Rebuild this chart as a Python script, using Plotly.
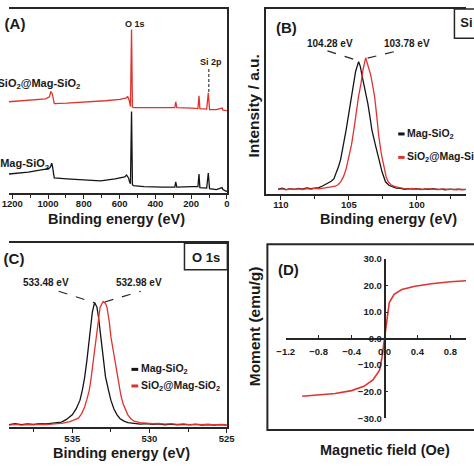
import plotly.graph_objects as go

W = H = 474
# ---------------- data ----------------
# (A) survey spectra: binding energy (eV) / intensity (a.u.)
survey_be_black = [1218, 1110, 1013, 992, 984, 980, 976, 965, 895, 787, 706, 625, 571, 561, 550, 544, 539,
                   533, 528, 523, 464, 356, 291, 286, 280, 194, 162, 156, 151, 113, 104, 97, 59, 27, 22, 0]
survey_int_black = [19, 21, 24, 25, 27, 30, 28, 15, 14, 12.5, 12, 14, 16, 18, 15, 11, 9,
                    83, 8, 7, 6, 5.5, 5.5, 11, 5.5, 6, 6, 19, 5, 4.5, 20, 4, 3, 5, 3, 1]
survey_be_red = [1218, 1110, 1013, 992, 984, 976, 965, 895, 787, 679, 598, 571, 561, 555, 547, 539,
                 533, 528, 518, 410, 291, 286, 280, 194, 162, 156, 151, 113, 104, 97, 59, 27, 22, 0]
survey_int_red = [93, 94.5, 96, 98, 103.5, 101, 91, 91.5, 92.5, 94, 95.5, 96.5, 97, 98.5, 95, 88,
                  167, 87.5, 87, 87, 87, 93, 87, 86.5, 86, 99, 86, 85.5, 102, 85, 85, 86.5, 84.5, 84]

# (B) Si 2p
si_be_black = [110.2, 109.9, 109.6, 109.3, 109.0, 108.7, 108.4, 108.1, 107.8, 107.5, 107.2, 106.9, 106.6,
               106.3, 106.1, 105.9, 105.75, 105.6, 105.4, 105.2, 105.0, 104.8, 104.65, 104.5, 104.28,
               104.15, 104.0, 103.8, 103.6, 103.45, 103.3, 103.05, 102.8, 102.55, 102.3, 102.05, 101.8,
               101.5, 101.2, 100.9, 100.6, 100.3, 100.0, 99.7, 99.4, 99.1, 98.8, 98.5, 98.2, 97.9, 97.6,
               97.3, 97.0, 96.7, 96.4]
si_int_black = [4.5, 5.5, 4.0, 5.0, 4.2, 5.3, 4.6, 5.8, 4.9, 5.5, 6.0, 8, 10,
                12.5, 15, 22, 28, 35, 49, 65, 82, 99, 112, 125, 135,
                130, 119, 106, 92, 79, 65, 50, 35, 22, 12, 8.5, 7,
                5.5, 5.2, 4.4, 5.1, 4.6, 5.0, 4.1, 4.8, 4.2, 5.0, 4.0, 4.6, 3.9, 4.5,
                4.0, 4.6, 4.0, 4.3]
si_be_red = [110.2, 109.9, 109.6, 109.3, 109.0, 108.7, 108.4, 108.1, 107.8, 107.5, 107.2, 106.9, 106.6,
             106.3, 106.0, 105.8, 105.6, 105.4, 105.2, 105.0, 104.8, 104.6, 104.45, 104.3, 104.1, 103.95,
             103.76, 103.6, 103.4, 103.25, 103.1, 102.95, 102.8, 102.6, 102.4, 102.25, 102.1, 101.9,
             101.6, 101.3, 101.0, 100.7, 100.4, 100.1, 99.8, 99.5, 99.2, 98.9, 98.6, 98.3, 98.0, 97.7,
             97.4, 97.1, 96.8, 96.5, 96.2]
si_int_red = [4.0, 4.8, 3.8, 5.0, 4.3, 4.9, 4.0, 5.1, 4.5, 5.3, 4.7, 5.6, 6.0,
              6.8, 7.5, 9, 12, 17, 25, 36, 50, 68, 85, 98, 113, 127,
              139, 131, 122, 111, 99, 80, 59, 40, 25, 17, 12, 9,
              7, 5.8, 5.2, 4.6, 5.3, 4.4, 4.9, 4.1, 5.0, 4.3, 4.8, 4.0, 4.7, 4.1,
              4.6, 3.9, 4.4, 4.0, 4.5]

# (C) O 1s
o_be_black = [539.1, 538.7, 538.3, 537.9, 537.5, 537.1, 536.7, 536.3, 536.0, 535.7, 535.4, 535.0, 534.75,
              534.5, 534.35, 534.2, 534.05, 533.9, 533.8, 533.7, 533.55, 533.4, 533.3, 533.2, 533.1,
              533.0, 532.85, 532.65, 532.5, 532.3, 532.1, 531.9, 531.65, 531.4, 531.0, 530.6, 530.2,
              529.8, 529.4, 529.0, 528.6, 528.2, 527.8, 527.4, 527.0, 526.6, 526.2, 525.8, 525.4, 525.0]
o_int_black = [3.0, 3.8, 2.9, 3.6, 3.2, 4.0, 3.6, 4.4, 4.5, 5.5, 8, 13, 19,
               28, 38, 51, 69, 88, 103, 118, 128, 123, 113, 98, 84,
               68, 52, 38, 28, 19, 13, 9, 6.5, 5, 4.2, 3.5, 3.9,
               3.1, 3.6, 2.8, 3.4, 2.7, 3.2, 2.6, 3.1, 2.5, 3.0, 2.4, 2.9, 2.5]
o_be_red = [539.1, 538.7, 538.3, 537.9, 537.5, 537.1, 536.7, 536.3, 536.0, 535.6, 535.15, 534.85, 534.6,
            534.4, 534.2, 534.05, 533.9, 533.8, 533.7, 533.6, 533.5, 533.4, 533.3, 533.2, 533.0, 532.85,
            532.75, 532.6, 532.5, 532.4, 532.3, 532.15, 532.0, 531.85, 531.7, 531.55, 531.4, 531.2,
            531.0, 530.6, 530.15, 529.8, 529.4, 529.0, 528.6, 528.2, 527.8, 527.4, 527.0, 526.6,
            526.2, 525.8, 525.4, 525.0]
o_int_red = [2.5, 3.2, 2.4, 3.0, 2.6, 3.3, 2.9, 3.4, 3.5, 4.5, 6, 7.5, 9.5,
             14, 21, 29, 38, 48, 61, 74, 88, 101, 114, 123, 129, 127,
             123, 108, 93, 84, 74.5, 59, 44, 33, 24, 18, 13, 9,
             6.5, 5, 4.5, 3.8, 4.2, 3.4, 3.9, 3.2, 3.7, 3.0, 3.5, 2.9,
             3.3, 2.7, 3.1, 2.8]

# (D) magnetization
field_oe = [-1.0, -0.8, -0.6, -0.4, -0.25, -0.14, -0.06, -0.03, -0.015, 0.0,
            0.015, 0.027, 0.058, 0.117, 0.21, 0.37, 0.57, 0.8, 1.0, 1.2]
moment = [-21.7, -21.3, -20.7, -19.6, -18.0, -15.6, -11.9, -7.0, -3.6, 0.0,
          3.8, 7.6, 13.6, 16.7, 18.5, 19.7, 20.7, 21.4, 21.9, 22.2]

series_names = ["Mag-SiO<sub>2</sub>", "SiO<sub>2</sub>@Mag-SiO<sub>2</sub>"]
survey_ticks = [0, 200, 400, 600, 800, 1000, 1200]
si_ticks = [100, 105, 110]
o_ticks = [525, 530, 535]

# ---------------- style ----------------
BLACK = "#141414"
RED = "#e0332e"
FRAME = "#262626"
TXT = "#1a1a1a"
FONT = "Liberation Sans, Arial, sans-serif"


def X(px):
    return px / W


def Y(py):
    return 1 - py / H


# pixel -> data helpers for each panel (only used for label placement)
def ax_A(px, py):
    return 1218 - px / 0.1855, 191 - py


def ax_B(px, py):
    return 111.06 - (px - 267) / 14.1, 192 - py


def ax_C(px, py):
    return 539.1 - px / 16.0, 431.5 - py


fig = go.Figure()
fig.add_trace(go.Scatter(x=survey_be_black, y=survey_int_black, mode="lines",
                         line=dict(color=BLACK, width=1.3), xaxis="x", yaxis="y"))
fig.add_trace(go.Scatter(x=survey_be_red, y=survey_int_red, mode="lines",
                         line=dict(color=RED, width=1.3), xaxis="x", yaxis="y"))
fig.add_trace(go.Scatter(x=si_be_black, y=si_int_black, mode="lines",
                         line=dict(color=BLACK, width=1.3), xaxis="x2", yaxis="y2"))
fig.add_trace(go.Scatter(x=si_be_red, y=si_int_red, mode="lines",
                         line=dict(color=RED, width=1.3), xaxis="x2", yaxis="y2"))
fig.add_trace(go.Scatter(x=o_be_black, y=o_int_black, mode="lines",
                         line=dict(color=BLACK, width=1.3), xaxis="x3", yaxis="y3"))
fig.add_trace(go.Scatter(x=o_be_red, y=o_int_red, mode="lines",
                         line=dict(color=RED, width=1.3), xaxis="x3", yaxis="y3"))
fig.add_trace(go.Scatter(x=field_oe, y=moment, mode="lines",
                         line=dict(color=RED, width=1.6), xaxis="x4", yaxis="y4"))


def edge_text(text, pos, size, xa, ya, textpos):
    # labels that run off the picture's edge
    fig.add_trace(go.Scatter(x=[pos[0]], y=[pos[1]], mode="text", text=[text], textposition=textpos,
                             cliponaxis=False, xaxis=xa, yaxis=ya, hoverinfo="skip",
                             textfont=dict(family=FONT, size=size, color=TXT, weight="bold")))


edge_text("(A)", ax_A(17, 20), 15, "x", "y", "middle left")
edge_text(series_names[1], ax_A(74, 80), 11, "x", "y", "middle left")
edge_text(series_names[0], ax_A(41.5, 162.5), 11, "x", "y", "middle left")
edge_text("(C)", ax_C(16, 260), 15, "x3", "y3", "middle left")
edge_text("Si 2p", ax_B(468, 18), 13, "x2", "y2", "middle right")

tickfont = dict(family=FONT, size=9.5, color=TXT, weight="bold")
common_x = dict(showline=True, linecolor=FRAME, linewidth=2, mirror=True, ticks="outside",
                ticklen=4, tickwidth=1.2, tickcolor=FRAME, showgrid=False, zeroline=False,
                tickfont=tickfont, ticklabelstandoff=-3)
common_y = dict(showline=True, linecolor=FRAME, linewidth=2, showticklabels=False, ticks="",
                showgrid=False, zeroline=False)

layout = dict(
    width=W, height=H, margin=dict(l=0, r=0, t=0, b=0),
    paper_bgcolor="white", plot_bgcolor="white", showlegend=False,
    font=dict(family=FONT, color=TXT, weight="bold"),
    xaxis=dict(common_x, domain=[0, X(226.5)], range=[1218, -2.7], tickvals=survey_ticks,
               minor=dict(dtick=100, ticks="outside", ticklen=3, tickcolor=FRAME), anchor="y"),
    yaxis=dict(common_y, domain=[Y(191), Y(3)], range=[0, 188], side="right", anchor="x"),
    xaxis2=dict(common_x, domain=[X(267), 1], range=[111.06, 96.38], tickvals=si_ticks,
                minor=dict(dtick=2.5, ticks="outside", ticklen=3, tickcolor=FRAME), anchor="y2"),
    yaxis2=dict(common_y, domain=[Y(192), Y(3)], range=[0, 189], anchor="x2"),
    xaxis3=dict(common_x, domain=[0, X(226.5)], range=[539.1, 524.95], tickvals=o_ticks,
                minor=dict(dtick=2.5, ticks="outside", ticklen=3, tickcolor=FRAME), anchor="y3"),
    yaxis3=dict(common_y, domain=[Y(431.5), Y(243)], range=[0, 188.5], side="right", anchor="x3"),
    xaxis4=dict(domain=[X(287), 1], range=[-1.2, 0.99], tickvals=[-1.2, -0.8, -0.4, 0, 0.4, 0.8],
                tickformat=".1f", showline=True, linecolor=FRAME, linewidth=1.5, ticks="inside",
                ticklen=3, tickcolor=FRAME, showgrid=False, zeroline=False, tickfont=tickfont,
                ticklabelstandoff=4,
                anchor="free", position=(Y(422) + Y(259)) / 2),
    yaxis4=dict(domain=[Y(422), Y(259)], range=[-30, 30], dtick=10, tickformat=".1f",
                showline=True, linecolor=FRAME, linewidth=1.5, ticks="inside", ticklen=3,
                tickcolor=FRAME, showgrid=False, zeroline=False, tickfont=tickfont,
                anchor="free", position=X(389.5)),
)
fig.update_layout(**layout)

shapes = []
annotations = []


def txt(text, x, y, size, xref="paper", yref="paper", xanchor="center", angle=0, color=TXT):
    annotations.append(dict(text=text, x=x, y=y, xref=xref, yref=yref, xanchor=xanchor,
                            yanchor="middle", showarrow=False, textangle=angle, borderpad=0,
                            borderwidth=0,
                            font=dict(family=FONT, size=size, color=color, weight="bold")))


def dline(x0, y0, x1, y1, xref, yref, color=FRAME, width=1.2, dash="dash"):
    shapes.append(dict(type="line", x0=x0, y0=y0, x1=x1, y1=y1, xref=xref, yref=yref,
                       line=dict(color=color, width=width, dash=dash)))


# axis titles
txt("Binding energy (eV)", X(112), Y(218), 14.5)
txt("Binding energy (eV)", X(394), Y(218), 14.5)
txt("Binding energy (eV)", X(117), Y(458), 14.5)
txt("Magnetic field (Oe)", X(390), Y(455), 14.5)
txt("Intensity / a.u.", X(254), Y(102), 15.5, angle=-90)
txt("Moment (emu/g)", X(254), Y(328), 15.5, angle=-90)

# panel labels
txt("(B)", X(288), Y(22.5), 15)
txt("(D)", X(289.5), Y(270), 15)

# (A) annotations
txt("O 1s", 513.7, 173, 9, "x", "y")
txt("Si 2p", 89, 134, 9, "x", "y")
dline(101, 103, 101, 128, "x", "y", width=1.1, dash="3px,2px")

# (B) annotations
shapes.append(dict(type="rect", x0=X(462), x1=X(490), y0=Y(33), y1=Y(3), xref="paper", yref="paper",
                   line=dict(color=FRAME, width=1.5)))
txt("104.28 eV", 106.38, 153.7, 10, "x2", "y2")
txt("103.78 eV", 100.71, 153.7, 10, "x2", "y2")
dline(106.57, 146, 104.33, 136, "x2", "y2")
dline(103.62, 138.7, 101.13, 147, "x2", "y2")
dline(X(403.7), Y(131), X(410.3), Y(131), "paper", "paper", color=BLACK, width=3, dash="solid")
dline(X(403.7), Y(155), X(410.3), Y(155), "paper", "paper", color=RED, width=3, dash="solid")
txt(series_names[0], X(412.5), Y(131), 10.5, xanchor="left")
txt(series_names[1], X(412.5), Y(155), 10.5, xanchor="left")

# (C) annotations
shapes.append(dict(type="rect", x0=X(182), x1=X(226.5), y0=Y(270), y1=Y(243), xref="paper",
                   yref="paper", line=dict(color=FRAME, width=1.5)))
txt("O 1s", X(204.5), Y(257), 13)
txt("533.48 eV", 536.71, 148.8, 10, "x3", "y3")
txt("532.98 eV", 530.67, 148.8, 10, "x3", "y3")
dline(535.88, 139.5, 533.59, 127.8, "x3", "y3")
dline(532.9, 128.5, 530.56, 139.5, "x3", "y3")
dline(X(127), Y(372), X(134), Y(372), "paper", "paper", color=BLACK, width=3, dash="solid")
dline(X(127), Y(389), X(134), Y(389), "paper", "paper", color=RED, width=3, dash="solid")
txt(series_names[0], X(136.5), Y(372), 10.5, xanchor="left")
txt(series_names[1], X(136.5), Y(389), 10.5, xanchor="left")

# (D) frame
shapes.append(dict(type="rect", x0=X(268), x1=X(520), y0=Y(434), y1=Y(244), xref="paper",
                   yref="paper", line=dict(color=FRAME, width=2)))

fig.update_layout(shapes=shapes, annotations=annotations)
fig.write_html("out.html")
